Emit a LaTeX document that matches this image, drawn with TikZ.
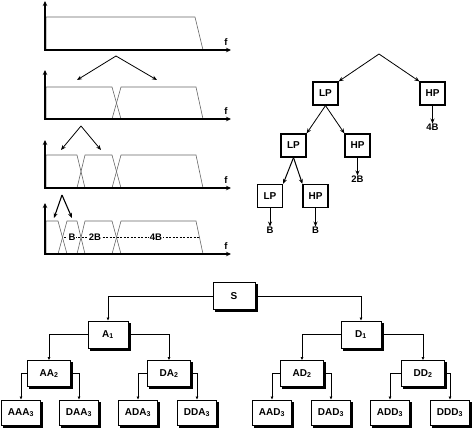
\documentclass[tikz,border=0pt]{standalone}
\usepackage{fontspec}
\setmainfont{Liberation Sans}
\usetikzlibrary{arrows.meta,backgrounds}
\begin{document}
\begin{tikzpicture}[x=1pt,y=-1pt,
  axis/.style={line width=1.6pt,-{Stealth[length=5pt,width=4.5pt]}},
  band/.style={line width=0.6pt,draw=black!60},
  pointer/.style={line width=0.8pt,-{Stealth[length=5pt,width=4pt]}},
  lab/.style={font=\fontsize{9.5}{10}\selectfont\bfseries,inner sep=0.5pt},
  fbox/.style={draw,line width=1.2pt,minimum width=25pt,minimum height=23pt,inner sep=0pt,fill=white,font=\fontsize{10}{11}\selectfont\bfseries},
  tbox/.style={draw,line width=0.8pt,fill=white,inner sep=0pt,font=\fontsize{10}{11}\selectfont\bfseries},
  lvlzero/.style={tbox,minimum width=42pt,minimum height=27pt},
  lvlone/.style={tbox,minimum width=40pt,minimum height=27pt},
  lvltwo/.style={tbox,minimum width=43pt,minimum height=26pt},
  lvlthree/.style={tbox,minimum width=39pt,minimum height=25pt},
  conn/.style={line width=0.7pt,-{Latex[length=3pt,width=3pt]}}
]
\useasboundingbox (0,0) rectangle (474,429);

% ---------- plot 1 ----------
\draw[band] (46,50)--(46,17)--(195,17)--(203,50);
\draw[axis] (45,50)--(231,50);
\draw[axis] (45,50.8)--(45,1);
\node[lab] (f1) at (226,42) {f};

% ---------- plot 2 ----------
\draw[band] (46,119)--(46,87)--(112,87)--(121,119);
\draw[band] (112,119)--(121,87)--(196,87)--(203,119);
\draw[axis] (45,119)--(231,119);
\draw[axis] (45,119.8)--(45,70);
\node[lab] (f2) at (226,111) {f};
\coordinate (p2) at (116,56);
\coordinate (p2l) at (77,80);
\coordinate (p2r) at (157,80);
\draw[pointer] (p2)--(p2l);
\draw[pointer] (p2)--(p2r);

% ---------- plot 3 ----------
\draw[band] (46,188)--(46,155)--(77,155)--(85,188);
\draw[band] (77,188)--(85,155)--(112,155)--(121,188);
\draw[band] (112,188)--(121,155)--(196,155)--(203,188);
\draw[axis] (45,188)--(231,188);
\draw[axis] (45,188.8)--(45,140);
\node[lab] (f3) at (226,180) {f};
\coordinate (p3) at (81,126);
\coordinate (p3l) at (61,150);
\coordinate (p3r) at (101,150);
\draw[pointer] (p3)--(p3l);
\draw[pointer] (p3)--(p3r);

% ---------- plot 4 ----------
\draw[band] (46,254)--(46,221)--(58,221)--(67,254);
\draw[band] (58,254)--(67,221)--(77,221)--(85,254);
\draw[band] (77,254)--(85,221)--(112,221)--(121,254);
\draw[band] (112,254)--(121,221)--(196,221)--(203,254);
\draw[line width=0.6pt,dash pattern=on 2pt off 1.5pt] (64,237)--(199,237);
\node[lab,fill=white] (lb1) at (72,237) {B};
\node[lab,fill=white] (lb2) at (95,237) {2B};
\node[lab,fill=white] (lb4) at (156,237) {4B};
\draw[axis] (45,254)--(231,254);
\draw[axis] (45,254.8)--(45,203);
\node[lab] (f4) at (226,246) {f};
\coordinate (p4) at (62,195);
\coordinate (p4l) at (54,218);
\coordinate (p4r) at (72,218);
\draw[pointer,line width=1.1pt] (p4)--(p4l);
\draw[pointer,line width=1.1pt] (p4)--(p4r);

% ---------- filter tree ----------
\coordinate (root) at (379,54);
\node[fbox] (lp1) at (325.5,93.5) {LP};
\node[fbox] (hp1) at (432.5,93.5) {HP};
\node[fbox] (lp2) at (293.5,145.5) {LP};
\node[fbox] (hp2) at (357.5,145.5) {HP};
\node[fbox] (lp3) at (270,196) {LP};
\node[fbox] (hp3) at (315.5,196) {HP};
\node[lab] (b4) at (432.5,127.5) {4B};
\node[lab] (b2) at (357.5,179.5) {2B};
\node[lab] (b1a) at (270,230.5) {B};
\node[lab] (b1b) at (315.5,230.5) {B};
\draw[pointer] (root)--(lp1.north east);
\draw[pointer] (root)--(hp1.north west);
\draw[pointer] (lp1.south)--(lp2.north east);
\draw[pointer] (lp1.south)--(hp2.north west);
\draw[pointer,line width=1pt] (lp2.south)--(lp3.north east);
\draw[pointer,line width=1pt] (lp2.south)--(hp3.north west);
\draw[pointer] (hp1.south)--(b4.north);
\draw[pointer] (hp2.south)--(b2.north);
\draw[pointer] (lp3.south)--(b1a.north);
\draw[pointer] (hp3.south)--(b1b.north);

% ---------- decomposition tree ----------
\node[lvlzero] (S) at (234,296) {S};
\node[lvlone] (A1) at (108,334.5) {A\textsubscript{1}};
\node[lvlone] (D1) at (361,334.5) {D\textsubscript{1}};
\node[lvltwo] (AA2) at (49,373.5) {AA\textsubscript{2}};
\node[lvltwo] (DA2) at (169,373.5) {DA\textsubscript{2}};
\node[lvltwo] (AD2) at (302,373.5) {AD\textsubscript{2}};
\node[lvltwo] (DD2) at (423,373.5) {DD\textsubscript{2}};
\node[lvlthree] (AAA3) at (21,412.5) {AAA\textsubscript{3}};
\node[lvlthree] (DAA3) at (79,412.5) {DAA\textsubscript{3}};
\node[lvlthree] (ADA3) at (138,412.5) {ADA\textsubscript{3}};
\node[lvlthree] (DDA3) at (197,412.5) {DDA\textsubscript{3}};
\node[lvlthree] (AAD3) at (272,412.5) {AAD\textsubscript{3}};
\node[lvlthree] (DAD3) at (331,412.5) {DAD\textsubscript{3}};
\node[lvlthree] (ADD3) at (390,412.5) {ADD\textsubscript{3}};
\node[lvlthree] (DDD3) at (450,412.5) {DDD\textsubscript{3}};

\begin{pgfonlayer}{background}
\foreach \n in {S,A1,D1,AA2,DA2,AD2,DD2,AAA3,DAA3,ADA3,DDA3,AAD3,DAD3,ADD3,DDD3}
  \fill[black] ([shift={(2.2,2.2)}]\n.north west) rectangle ([shift={(2.2,2.2)}]\n.south east);
\end{pgfonlayer}

\draw[conn] (S.west) -| (A1.north);
\draw[conn] (S.east) -| (D1.north);
\draw[conn] (A1.west) -| (AA2.north);
\draw[conn] (A1.east) -| (DA2.north);
\draw[conn] (D1.west) -| (AD2.north);
\draw[conn] (D1.east) -| (DD2.north);
\draw[conn] (AA2.west) -| (AAA3.north);
\draw[conn] (AA2.east) -| (DAA3.north);
\draw[conn] (DA2.west) -| (ADA3.north);
\draw[conn] (DA2.east) -| (DDA3.north);
\draw[conn] (AD2.west) -| (AAD3.north);
\draw[conn] (AD2.east) -| (DAD3.north);
\draw[conn] (DD2.west) -| (ADD3.north);
\draw[conn] (DD2.east) -| (DDD3.north);
\end{tikzpicture}
\end{document}
